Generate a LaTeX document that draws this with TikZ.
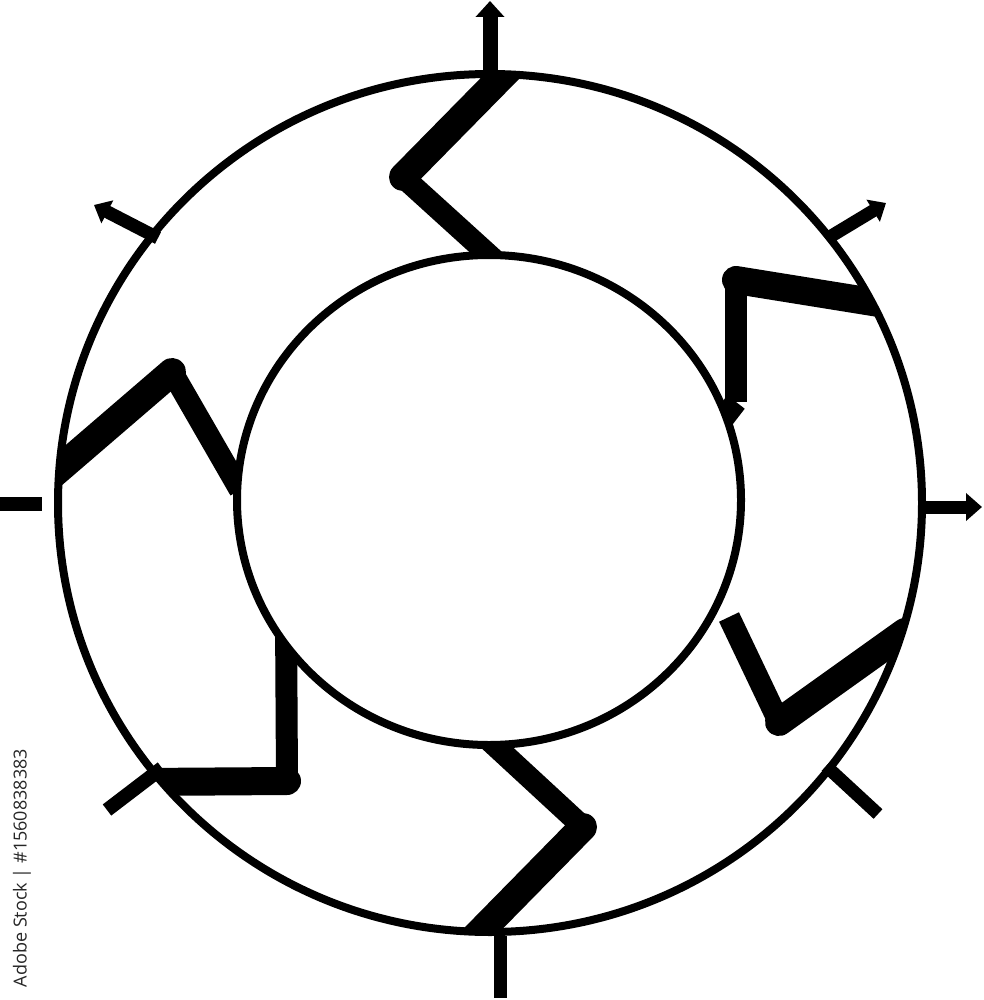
\documentclass[tikz,border=0pt]{standalone}
\usepackage{fontspec}
\newfontfamily\wmfont{Open Sans}
\usetikzlibrary{arrows.meta}
\tikzset{
  ring/.style={line width=8pt},
  zigout/.style={line width=28pt, line cap=round},
  zigin/.style={line width=22pt, line cap=butt},
  tickline/.style={line width=#1},
}
\newcommand\myzig[3]{\draw[zigout] #1 -- #2; \draw[zigin] #2 -- #3;}
\begin{document}
\begin{tikzpicture}[x=1pt,y=-1pt]
\useasboundingbox (0,0) rectangle (983,1000);
\fill[white] (0,0) rectangle (983,1000);
% zigzags clipped to ring
\begin{scope}[even odd rule]
\clip (490,503) ellipse [x radius=432pt, y radius=429pt]
      (489,500) ellipse [x radius=252pt, y radius=245pt];
\myzig{(522,56)}{(403,177)}{(500,265)}
\myzig{(885,304)}{(736,280)}{(736,402)}
\draw[zigin] (736,402) -- (716,428);
\myzig{(905,632)}{(779,722)}{(729,617)}
\myzig{(472,940)}{(583,827)}{(478,730)}
\myzig{(140,782)}{(287,781)}{(286,615)}
\myzig{(50,477)}{(172,372)}{(240,490)}
\end{scope}
% circles
\draw[ring] (490,503) ellipse [x radius=432pt, y radius=429pt];
\draw[ring] (489,500) ellipse [x radius=252pt, y radius=245pt];
% ticks
\draw[line width=15pt, -{Triangle[width=28pt,length=16pt]}] (490,72) -- (490,1);
\draw[line width=13pt, -{Triangle[width=25pt,length=15pt]}] (828,238) -- (886,203);
\draw[line width=13pt, -{Triangle[width=27pt,length=16pt]}] (921,507) -- (982,507);
\draw[line width=13pt, -{Triangle[width=25pt,length=15pt]}] (158,238) -- (94,205);
\draw[tickline=13pt] (826,766) -- (878,814);
\draw[tickline=13pt] (500,936) -- (500,998);
\draw[tickline=14pt] (162,768) -- (107,810);
\draw[tickline=14pt] (0,504) -- (42,504);
% watermark id text
\node[rotate=90, text=black!85, font=\wmfont\fontsize{18}{20}\selectfont, anchor=center] (wm) at (22,868) {Adobe Stock | \#1560838383};
\end{tikzpicture}
\end{document}
